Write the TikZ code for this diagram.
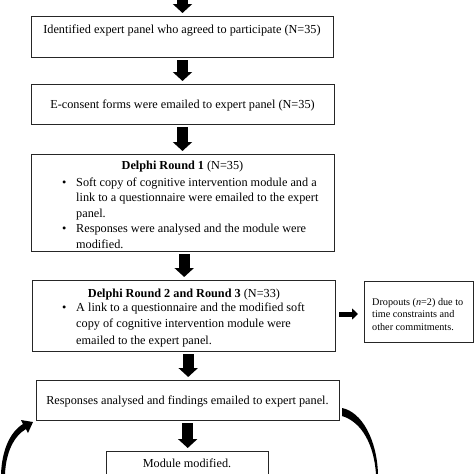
\documentclass[tikz,border=0pt]{standalone}
\usepackage{fontspec}
\setmainfont{Liberation Serif}
\usetikzlibrary{arrows.meta}
\newcommand\blt{\makebox[14pt][l]{\textbullet}}
\newcommand\ind{\hspace*{14pt}}
\begin{document}
\begin{tikzpicture}[x=1pt,y=-1pt,
  box/.style={draw=black!85, line width=1.4pt, fill=white, inner sep=0pt, anchor=north west},
  bigarrow/.style={line width=11pt, -{Triangle[length=9pt,width=19pt]}, shorten <=2pt, shorten >=3pt},
  smallarrow/.style={line width=5pt, -{Triangle[length=6pt,width=11pt]}, shorten <=3pt, shorten >=6pt},
  txt/.style={inner sep=0pt, anchor=base, font=\fontsize{12.25}{15}\selectfont},
  lst/.style={inner sep=0pt, anchor=base west}]
\useasboundingbox (0,0) rectangle (474,474);
\clip (0,0) rectangle (474,474);
\fill[white] (0,0) rectangle (474,474);

% boxes
\node[box, minimum width=302pt, minimum height=41pt] (b1) at (31,16) {};
\node[box, minimum width=303pt, minimum height=40pt] (b2) at (31,84) {};
\node[box, minimum width=303pt, minimum height=97pt] (b3) at (31,154) {};
\node[box, minimum width=303pt, minimum height=71pt] (b4) at (32,280) {};
\node[box, minimum width=109pt, minimum height=61pt] (d) at (364,281) {};
\node[box, minimum width=303pt, minimum height=40pt] (b5) at (36,380) {};
\node[box, minimum width=162pt, minimum height=40pt] (b6) at (106,451) {};

% texts
\node[txt] (t1) at (182,33) {Identified expert panel who agreed to participate (N=35)};
\node[txt] (t2) at (182.5,108) {E-consent forms were emailed to expert panel (N=35)};
\node[txt] (t3) at (182.5,169) {\textbf{Delphi Round 1} (N=35)};
\node[lst] (l3) at (62,186) {\parbox[t]{270pt}{\fontsize{12.25}{15.5}\selectfont
  \blt Soft copy of cognitive intervention module and a\\
  \ind link to a questionnaire were emailed to the expert\\
  \ind panel.\\
  \blt Responses were analysed and the module were\\
  \ind modified.}};
\node[txt] (t4) at (184,297) {\textbf{Delphi Round 2 and Round 3} (N=33)};
\node[lst] (l4) at (62,311) {\parbox[t]{270pt}{\fontsize{12.25}{16.5}\selectfont
  \blt A link to a questionnaire and the modified soft\\
  \ind copy of cognitive intervention module were\\
  \ind emailed to the expert panel.}};
\node[lst] (td) at (372,305) {\parbox[t]{100pt}{\fontsize{10.2}{12.5}\selectfont
  Dropouts (\textit{n}=2) due to\\
  time constraints and\\
  other commitments.}};
\node[txt] (t5) at (187.5,404) {Responses analysed and findings emailed to expert panel.};
\node[txt] (t6) at (187,467) {Module modified.};

% arrows
\coordinate (top) at (182.5,-2);
\draw[bigarrow] (top) -- (b1.north -| top);
\draw[bigarrow] (b1.south -| top) -- (b2.north -| top);
\draw[bigarrow] (b2.south -| top) -- (b3.north -| top);
\draw[bigarrow] (b3.south -| b4.north) -- (b4.north);
\draw[bigarrow] (b4.south -| b5.north) -- (b5.north);
\draw[bigarrow] (b5.south -| b6.north) -- (b6.north);
\draw[smallarrow] (b4.east |- 0,314) -- (d.west |- 0,314);

% curved arrows
\fill (1,474) .. controls (2,450) and (10,432) .. (23,424) -- (21,420) -- (33,422) -- (28,433) -- (26,429) .. controls (14,436) and (6,452) .. (5,474) -- cycle;
\fill (342,408) .. controls (362,412) and (377,440) .. (378,474) -- (376,474) .. controls (374,445) and (362,422) .. (342,416) -- cycle;
\end{tikzpicture}
\end{document}
